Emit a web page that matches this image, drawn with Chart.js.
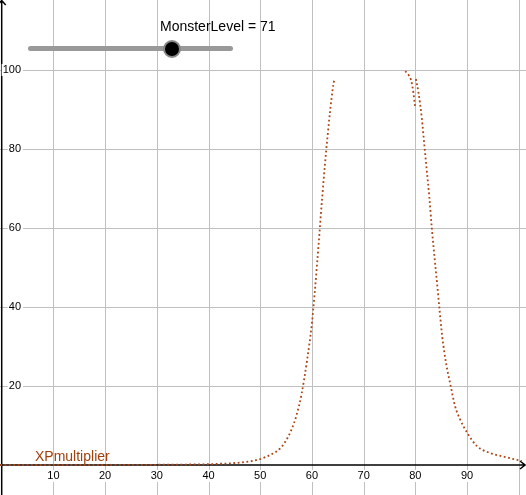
<!DOCTYPE html>
<html>
<head>
<meta charset="utf-8">
<script src="https://cdn.jsdelivr.net/npm/chart.js@4"></script>
<style>
  body { margin: 0; background: #fff; }
  #wrap { position: relative; width: 526px; height: 495px; }
  #slider-label {
    position: absolute; left: 160px; top: 18px;
    font: 14px "Liberation Sans", Arial, sans-serif; color: #000;
    white-space: nowrap;
  }
  #slider-line {
    position: absolute; left: 28px; top: 46px; width: 205px; height: 5px;
    background: #999; border-radius: 3px;
  }
  #slider-knob {
    position: absolute; left: 163px; top: 40px; width: 14px; height: 14px;
    background: #000; border: 2px solid #888; border-radius: 50%;
  }
</style>
</head>
<body>
<div id="wrap">
  <canvas id="xpChart" width="526" height="495"></canvas>
  <div id="slider-line"></div>
  <div id="slider-knob"></div>
  <div id="slider-label">MonsterLevel = 71</div>
</div>
<script>
// values (MonsterLevel = 71)
const leftX = [-0.3, 10, 20, 30, 40, 42, 44, 46, 48, 50, 51, 52, 53, 54, 55, 56, 57, 58, 59, 60, 61, 62, 63, 64, 64.3];
const leftY = [0, 0, 0, 0.05, 0.2, 0.3, 0.4, 0.6, 0.9, 1.5, 2.0, 2.6, 3.3, 4.4, 6.2, 8.8, 12.5, 18, 26, 36, 51, 68, 83, 95, 97.5];

const shortX = [78.05, 78.7, 79.15, 79.55, 79.8, 79.95];
const shortY = [99.7, 98.7, 97.5, 94.9, 92.4, 90.7];

const rightX = [80.1, 80.6, 81.25, 81.75, 82.2, 82.7, 83.2, 83.7, 84.2, 84.65, 85.2, 85.95, 86.85, 87.7, 88.7, 90.1, 91.9, 94.5, 97.1, 100.6];
const rightY = [97.7, 94.3, 87.8, 80.8, 74.7, 67.9, 59.7, 52.7, 46, 39.7, 32.5, 25.7, 19.9, 14.8, 11.4, 8.0, 4.8, 3.0, 2.1, 1.0];

const xTicks = [10, 20, 30, 40, 50, 60, 70, 80, 90, 100];
const yTicks = [20, 40, 60, 80, 100];
const xTickLabels = ["10", "20", "30", "40", "50", "60", "70", "80", "90"];
const yTickLabels = ["20", "40", "60", "80", "100"];

const curveColor = "#ad4416";
const textColor = "#a0400c";

function toPoints(xs, ys) {
  return xs.map((x, i) => ({ x: x, y: ys[i] }));
}

function curve(xs, ys) {
  return {
    data: toPoints(xs, ys),
    borderColor: curveColor,
    borderWidth: 1.8,
    borderDash: [1.8, 2.6],
    pointRadius: 0,
    cubicInterpolationMode: "monotone",
    fill: false,
  };
}

// grid, axes and labels drawn GeoGebra style, inside the plot area
const axesPlugin = {
  id: "geoAxes",
  beforeDatasetsDraw(chart) {
    const ctx = chart.ctx;
    const xs = chart.scales.x;
    const ys = chart.scales.y;
    const area = chart.chartArea;
    const x0 = xs.getPixelForValue(0);
    const y0 = ys.getPixelForValue(0);

    ctx.save();
    ctx.fillStyle = "#fff";
    ctx.fillRect(area.left, area.top, area.right - area.left, area.bottom - area.top);

    // grid
    ctx.strokeStyle = "#c0c0c0";
    ctx.lineWidth = 1;
    xTicks.forEach((v) => {
      const p = Math.round(xs.getPixelForValue(v)) + 0.5;
      ctx.beginPath();
      ctx.moveTo(p, area.top);
      ctx.lineTo(p, area.bottom);
      ctx.stroke();
    });
    yTicks.forEach((v) => {
      const p = Math.round(ys.getPixelForValue(v)) + 0.5;
      ctx.beginPath();
      ctx.moveTo(area.left, p);
      ctx.lineTo(area.right, p);
      ctx.stroke();
    });

    // axes with arrows
    ctx.strokeStyle = "#000";
    ctx.lineWidth = 1.5;
    ctx.beginPath();
    ctx.moveTo(x0, area.bottom);
    ctx.lineTo(x0, area.top);
    ctx.moveTo(x0 - 4, area.top + 5);
    ctx.lineTo(x0, area.top + 0.5);
    ctx.lineTo(x0 + 4, area.top + 5);
    ctx.moveTo(area.left, y0);
    ctx.lineTo(area.right - 1, y0);
    ctx.moveTo(area.right - 6, y0 - 4);
    ctx.lineTo(area.right - 1, y0);
    ctx.lineTo(area.right - 6, y0 + 4);
    ctx.stroke();

    // tick labels
    ctx.font = '11px "Liberation Sans", Arial, sans-serif';
    ctx.textBaseline = "middle";
    xTickLabels.forEach((t) => {
      const p = xs.getPixelForValue(Number(t));
      const w = ctx.measureText(t).width;
      ctx.fillStyle = "#fff";
      ctx.fillRect(p - w / 2 - 1, y0 + 5, w + 2, 12);
      ctx.fillStyle = "#000";
      ctx.textAlign = "center";
      ctx.fillText(t, p, y0 + 11);
    });
    yTickLabels.forEach((t) => {
      const p = ys.getPixelForValue(Number(t));
      const w = ctx.measureText(t).width;
      ctx.fillStyle = "#fff";
      ctx.fillRect(21 - w - 1, p - 6, w + 3, 12);
      ctx.fillStyle = "#000";
      ctx.textAlign = "right";
      ctx.fillText(t, 21, p + 0.5);
    });

    // function name
    ctx.font = '14px "Liberation Sans", Arial, sans-serif';
    ctx.fillStyle = textColor;
    ctx.textAlign = "left";
    ctx.textBaseline = "alphabetic";
    ctx.fillText("XPmultiplier", 35, 461);
    ctx.restore();
  },
};

const xpChart = new Chart(document.getElementById("xpChart"), {
  type: "line",
  data: {
    datasets: [curve(leftX, leftY), curve(shortX, shortY), curve(rightX, rightY)],
  },
  options: {
    responsive: false,
    animation: false,
    layout: { padding: 0 },
    plugins: {
      legend: { display: false },
      tooltip: { enabled: false },
    },
    scales: {
      x: { type: "linear", min: -0.33, max: 101.4, display: false },
      y: { type: "linear", min: -7.6, max: 117.7, display: false },
    },
  },
  plugins: [axesPlugin],
});
</script>
</body>
</html>
